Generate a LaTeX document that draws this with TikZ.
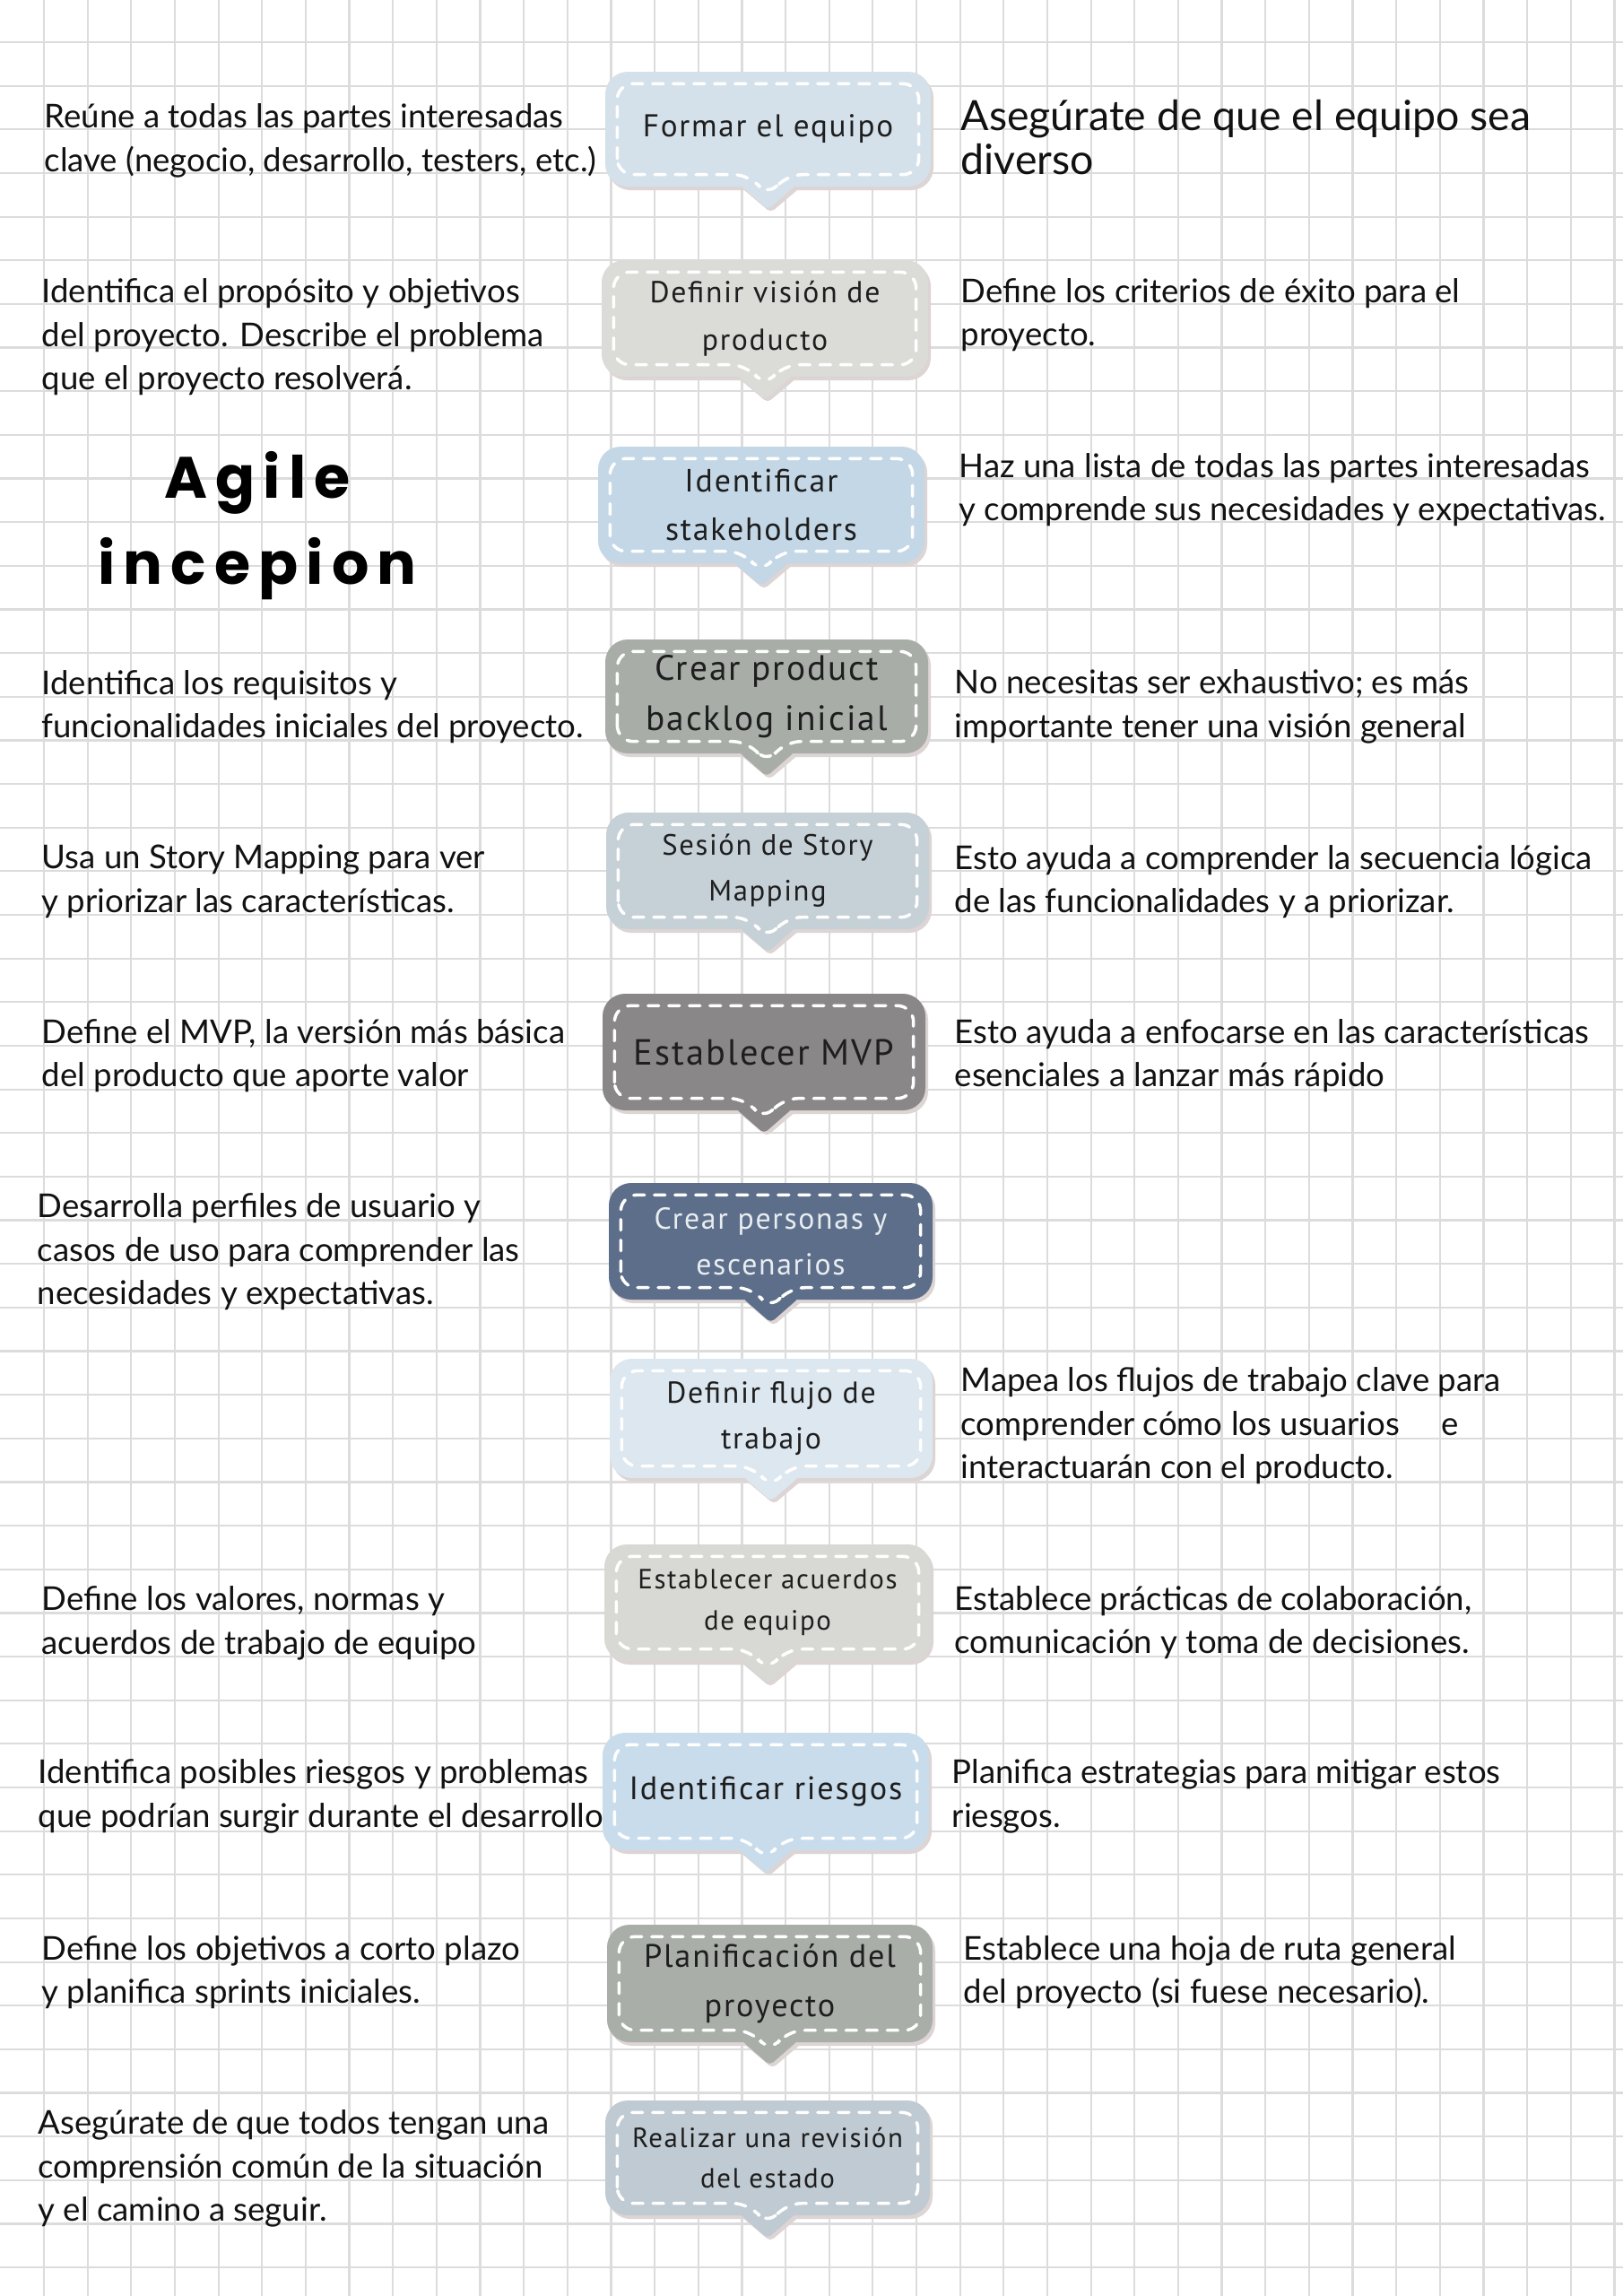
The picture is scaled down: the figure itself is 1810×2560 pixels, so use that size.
\documentclass[tikz,border=0pt]{standalone}
\usepackage{fontspec}
\setmainfont{Lato}
\newfontfamily\boxfont{PT Sans}[LetterSpace=5.0]
\newfontfamily\titlefont{Poppins}[LetterSpace=14.0]
\usetikzlibrary{calc}
\definecolor{gridc}{HTML}{DCDCDC}
\definecolor{shadowc}{HTML}{DDD4D4}
\definecolor{cA}{HTML}{D5E1EA}
\definecolor{cB}{HTML}{DBDBD8}
\definecolor{cC}{HTML}{C4D7E6}
\definecolor{cD}{HTML}{A8ADA8}
\definecolor{cE}{HTML}{C6D0D7}
\definecolor{cF}{HTML}{898788}
\definecolor{cG}{HTML}{5C6E89}
\definecolor{cH}{HTML}{DCE7EF}
\definecolor{cI}{HTML}{D8D8D4}
\definecolor{cJ}{HTML}{C9DCEB}
\definecolor{cK}{HTML}{A9AEA9}
\definecolor{cL}{HTML}{BFCAD2}
\definecolor{boxtext}{HTML}{1E1E1E}
\definecolor{lighttext}{HTML}{E9EDF1}
\definecolor{hand}{HTML}{111111}
\tikzset{
  bubblebox/.style={rectangle, rounded corners=0.25cm, inner sep=0pt, align=center,
    font=\boxfont\fontsize{10}{15}\selectfont, text=boxtext},
  stitch/.style={white, line width=0.035cm, dash pattern=on 0.12cm off 0.11cm,
    rounded corners=0.18cm, line cap=round},
  handtext/.style={inner sep=0pt, align=left, text=hand,
    font=\fontsize{10.4}{13.8}\selectfont},
  titletext/.style={inner sep=0pt, text=black, font=\titlefont\bfseries\fontsize{18.5}{22}\selectfont}
}
\newcommand{\bubble}[8]{%
  \pgfmathsetmacro\bw{(#4-#2)*0.01}%
  \pgfmathsetmacro\bh{(#5-#3)*0.01}%
  \pgfmathsetmacro\bx{(#2+#4)/2}%
  \pgfmathsetmacro\by{(#3+#5)/2}%
  \fill[shadowc, rounded corners=0.25cm] ({#2+3},{#3+4}) rectangle ({#4+3},{#5+4});
  \fill[shadowc, rounded corners=0.05cm] ({\bx-30},{#5+1}) -- ({\bx+3},{#5+29}) -- ({\bx+36},{#5+1}) -- cycle;
  \node[bubblebox, fill=#6, minimum width=\bw cm, minimum height=\bh cm, #7] (#1) at (\bx,\by) {#8};
  \fill[#6, rounded corners=0.05cm] ($(#1.south)+(-32,-3)$) -- ($(#1.south)+(0,25)$) -- ($(#1.south)+(32,-3)$) -- cycle;
  \draw[stitch] ($(#1.south west)+(14,-14)$) -- ($(#1.north west)+(14,14)$) -- ($(#1.north east)+(-14,14)$) -- ($(#1.south east)+(-14,-14)$) -- ($(#1.south)+(20,-14)$) -- ($(#1.south)+(0,11)$) -- ($(#1.south)+(-20,-14)$) -- cycle;
}
\begin{document}
\begin{tikzpicture}[x=0.01cm, y=-0.01cm]
\useasboundingbox (0,0) rectangle (1810,2560);
\fill[white] (0,0) rectangle (1810,2560);
% grid
\foreach \i in {0,...,36} \draw[gridc, line width=0.022cm] ({49+\i*48.65},0) -- ({49+\i*48.65},2560);
\foreach \j in {0,...,51} \draw[gridc, line width=0.022cm] (0,{47+\j*48.65}) -- (1810,{47+\j*48.65});

% bubbles
\bubble{b1}{675}{80}{1038}{208}{cA}{}{Formar el equipo}
\bubble{b2}{671}{290}{1035}{420}{cB}{font=\boxfont\fontsize{9.6}{15}\selectfont}{Definir visión de\\producto}
\bubble{b3}{667}{498}{1031}{628}{cC}{font=\boxfont\fontsize{10.2}{15.5}\selectfont}{Identificar\\stakeholders}
\bubble{b4}{675}{713}{1035}{840}{cD}{font=\boxfont\fontsize{11.2}{16}\selectfont}{Crear product\\backlog inicial}
\bubble{b5}{676}{906}{1036}{1036}{cE}{font=\boxfont\fontsize{9.3}{14.5}\selectfont}{Sesión de Story\\Mapping}
\bubble{b6}{672}{1108}{1032}{1238}{cF}{font=\boxfont\fontsize{11.5}{15}\selectfont}{Establecer MVP}
\bubble{b7}{679}{1319}{1040}{1449}{cG}{font=\boxfont\fontsize{9.6}{14.5}\selectfont, text=lighttext}{Crear personas y\\escenarios}
\bubble{b8}{680}{1515}{1040}{1648}{cH}{font=\boxfont\fontsize{9.6}{14.5}\selectfont}{Definir flujo de\\trabajo}
\bubble{b9}{674}{1722}{1038}{1852}{cI}{font=\boxfont\fontsize{8.8}{13}\selectfont}{Establecer acuerdos\\de equipo}
\bubble{b10}{672}{1932}{1036}{2063}{cJ}{font=\boxfont\fontsize{10.3}{15}\selectfont}{Identificar riesgos}
\bubble{b11}{677}{2146}{1040}{2277}{cK}{font=\boxfont\fontsize{10.3}{15.5}\selectfont}{Planificación del\\proyecto}
\bubble{b12}{675}{2342}{1037}{2470}{cL}{font=\boxfont\fontsize{8.8}{13}\selectfont}{Realizar una revisión\\del estado}

% title
\node[titletext] (t1) at (287,538) {Agile};
\node[titletext] (t2) at (287,634) {incepion};

% left texts
\node[handtext, anchor=west] (l1) at (49,157) {Reúne a todas las partes interesadas\\clave (negocio, desarrollo, testers, etc.)};
\node[handtext, anchor=west] (l2) at (46,376) {Identifica el propósito y objetivos\\del proyecto. Describe el problema\\que el proyecto resolverá.};
\node[handtext, anchor=west] (l4) at (46,788) {Identifica los requisitos y\\funcionalidades iniciales del proyecto.};
\node[handtext, anchor=west] (l5) at (46,983) {Usa un Story Mapping para ver\\y priorizar las características.};
\node[handtext, anchor=west] (l6) at (46,1177) {Define el MVP, la versión más básica\\del producto que aporte valor};
\node[handtext, anchor=west] (l7) at (41,1396) {Desarrolla perfiles de usuario y\\casos de uso para comprender las\\necesidades y expectativas.};
\node[handtext, anchor=west] (l9) at (46,1810) {Define los valores, normas y\\acuerdos de trabajo de equipo};
\node[handtext, anchor=west] (l10) at (42,2003) {Identifica posibles riesgos y problemas\\que podrían surgir durante el desarrollo};
\node[handtext, anchor=west] (l11) at (46,2199) {Define los objetivos a corto plazo\\y planifica sprints iniciales.};
\node[handtext, anchor=west] (l12) at (42,2418) {Asegúrate de que todos tengan una\\comprensión común de la situación\\y el camino a seguir.};

% right texts
\node[handtext, anchor=west, font=\fontsize{13.2}{14}\selectfont] (r1) at (1071,153) {Asegúrate de que el equipo sea\\diverso};
\node[handtext, anchor=west] (r2) at (1071,351) {Define los criterios de éxito para el\\proyecto.};
\node[handtext, anchor=west] (r3) at (1069,546) {Haz una lista de todas las partes interesadas\\y comprende sus necesidades y expectativas.};
\node[handtext, anchor=west] (r4) at (1064,788) {No necesitas ser exhaustivo; es más\\importante tener una visión general};
\node[handtext, anchor=west] (r5) at (1064,983) {Esto ayuda a comprender la secuencia lógica\\de las funcionalidades y a priorizar.};
\node[handtext, anchor=west] (r6) at (1064,1177) {Esto ayuda a enfocarse en las características\\esenciales a lanzar más rápido};
\node[handtext, anchor=west] (r8) at (1071,1590) {Mapea los flujos de trabajo clave para\\comprender cómo los usuarios\quad\ e\\interactuarán con el producto.};
\node[handtext, anchor=west] (r9) at (1064,1809) {Establece prácticas de colaboración,\\comunicación y toma de decisiones.};
\node[handtext, anchor=west] (r10) at (1061,2003) {Planifica estrategias para mitigar estos\\riesgos.};
\node[handtext, anchor=west] (r11) at (1074,2199) {Establece una hoja de ruta general\\del proyecto (si fuese necesario).};
\end{tikzpicture}
\end{document}
